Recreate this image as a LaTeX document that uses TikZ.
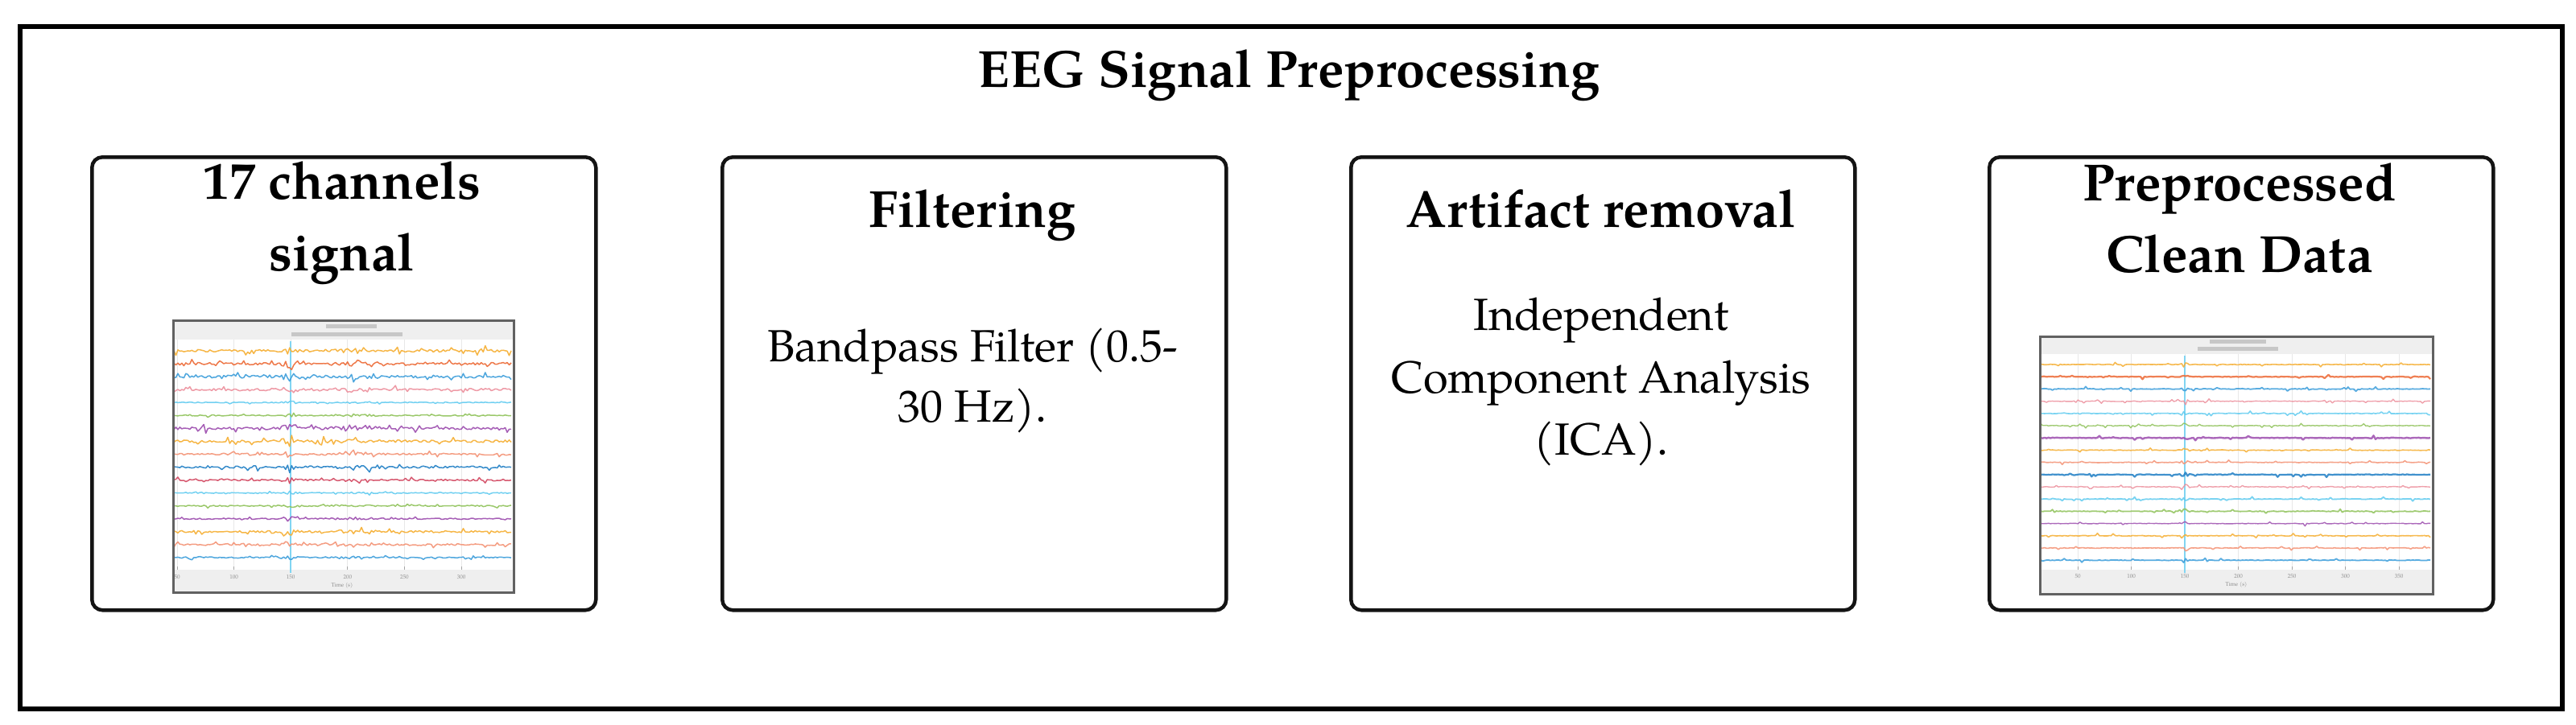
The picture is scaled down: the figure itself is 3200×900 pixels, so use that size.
\documentclass[tikz,border=0pt]{standalone}
\usepackage{fontspec}
\setmainfont{TeX Gyre Pagella}
% trace colours of the EEG plots
\definecolor{eorange}{HTML}{F5AE32}
\definecolor{ered}{HTML}{EC6A36}
\definecolor{eblue}{HTML}{3C9DDA}
\definecolor{epink}{HTML}{EC8F9C}
\definecolor{ecyan}{HTML}{62CBEF}
\definecolor{egreen}{HTML}{8FC25A}
\definecolor{epurple}{HTML}{9C4DAE}
\definecolor{esalmon}{HTML}{F39274}
\definecolor{edblue}{HTML}{1F7EC4}
\definecolor{ecrimson}{HTML}{D24760}
\definecolor{band}{HTML}{EFEFEF}
\begin{document}
\begin{tikzpicture}[x=1pt,y=-1pt]
\tikzset{
  outerframe/.style={draw=black, line width=6pt, inner sep=0pt, anchor=north west},
  stagebox/.style={draw=black!92, line width=4.5pt, rounded corners=13pt, inner sep=0pt, anchor=north west,
                   minimum width=626pt, minimum height=563pt},
  headline/.style={font=\fontsize{65}{78}\selectfont\bfseries, anchor=base, inner sep=0pt},
  bodyline/.style={font=\fontsize{56}{70}\selectfont, anchor=base, inner sep=0pt},
  plotframe/.style={draw=black!62, line width=3pt, inner sep=0pt, anchor=north west},
  gridline/.style={draw=black!9, line width=0.8pt},
  axislabel/.style={font=\fontsize{7}{8}\selectfont, text=black!45, anchor=base, inner sep=0pt},
  faketitle/.style={fill=black!22},
}
\useasboundingbox (0,0) rectangle (3200,900);

% outer frame and heading
\node[outerframe, minimum width=3158pt, minimum height=848pt] (frame) at (22,30) {};
\node[headline] (title) at (1601,108) {EEG Signal Preprocessing};

% the four stages
\node[stagebox] (b1) at (112,193) {};
\node[stagebox] (b2) at (895,193) {};
\node[stagebox] (b3) at (1676,193) {};
\node[stagebox] (b4) at (2469,193) {};

\node[headline] (t1a) at (425,247) {17 channels};
\node[headline] (t1b) at (425,336) {signal};

\node[headline] (t2) at (1208,282) {Filtering};
\node[bodyline] (d2a) at (1208,449) {Bandpass Filter (0.5-};
\node[bodyline] (d2b) at (1208,524) {30 Hz).};

\node[headline] (t3) at (1989,282) {Artifact removal};
\node[bodyline] (d3a) at (1989,410) {Independent};
\node[bodyline] (d3b) at (1989,488) {Component Analysis};
\node[bodyline] (d3c) at (1989,565) {(ICA).};

\node[headline] (t4a) at (2782,249) {Preprocessed};
\node[headline] (t4b) at (2782,338) {Clean Data};

% ---------- raw 17-channel recording ----------
\fill[band] (214,397) rectangle (637,422);
\fill[band] (214,708) rectangle (637,735);
\fill[faketitle] (405,403) rectangle (468,408);
\fill[faketitle] (362,413) rectangle (500,418);
\foreach \k in {0,...,5} {
  \pgfmathsetmacro\tx{220+70.6*\k}
  \draw[gridline] (\tx,422) -- (\tx,708);
  \draw[black!35, line width=0.8pt] (\tx,708) -- (\tx,704);
}
\foreach \k/\lab in {0/50,1/100,2/150,3/200,4/250,5/300} {
  \node[axislabel] at ({220+70.6*\k},719) {\lab};
}
\node[axislabel] at (425,729) {Time (s)};
\draw[ecyan!80, line width=1.4pt] (361,424) -- (361,712);
\pgfmathsetseed{11}
\foreach \c/\a [count=\i from 0] in {eorange/1.0,ered/1.0,eblue/1.0,epink/0.9,ecyan/0.35,egreen/0.45,
    epurple/1.0,eorange/1.0,esalmon/0.7,edblue/0.8,ecrimson/0.7,ecyan/0.35,egreen/0.45,epurple/0.5,
    eorange/0.8,esalmon/0.7,eblue/0.5} {
  \pgfmathsetmacro\yb{436+16.05*\i}
  \draw[\c, line width=1.5pt, opacity=0.9, line join=round]
    plot[domain=216:635, samples=170]
    (\x, {\yb + \a*(1.6*rand + 5*rand*(rnd>0.84) + 7*rand*max(0,1-abs(\x-361)/16) + 3.5*rand*max(0,1-abs(\x-440)/45))});
}
\node[plotframe, minimum width=423pt, minimum height=338pt] (p1) at (214,397) {};

% ---------- cleaned recording ----------
\fill[band] (2533,417) rectangle (3021,440);
\fill[band] (2533,708) rectangle (3021,737);
\fill[faketitle] (2745,422) rectangle (2815,427);
\fill[faketitle] (2730,431) rectangle (2830,436);
\foreach \k in {0,...,6} {
  \pgfmathsetmacro\tx{2581+66.5*\k}
  \draw[gridline] (\tx,440) -- (\tx,708);
  \draw[black!35, line width=0.8pt] (\tx,708) -- (\tx,704);
}
\foreach \k/\lab in {0/50,1/100,2/150,3/200,4/250,5/300,6/350} {
  \node[axislabel] at ({2581+66.5*\k},718) {\lab};
}
\node[axislabel] at (2778,728) {Time (s)};
\draw[ecyan!80, line width=1.4pt] (2714,442) -- (2714,712);
\pgfmathsetseed{23}
\foreach \c/\w [count=\i from 0] in {eorange/1.6,ered/2.2,eblue/1.8,epink/1.4,ecyan/1.6,egreen/1.4,
    epurple/2.4,eorange/1.6,esalmon/1.6,edblue/2.2,epink/1.4,ecyan/1.8,egreen/1.8,epurple/1.4,
    eorange/1.6,esalmon/1.6,eblue/1.8} {
  \pgfmathsetmacro\yb{453+15.2*\i}
  \draw[\c, line width=\w pt, opacity=0.85, line join=round]
    plot[domain=2535:3019, samples=200]
    (\x, {\yb + 0.4*rand + 3*rand*(rnd>0.9) + 4*rand*max(0,1-abs(\x-2714)/8)});
}
\node[plotframe, minimum width=488pt, minimum height=320pt] (p4) at (2533,417) {};
\end{tikzpicture}
\end{document}
